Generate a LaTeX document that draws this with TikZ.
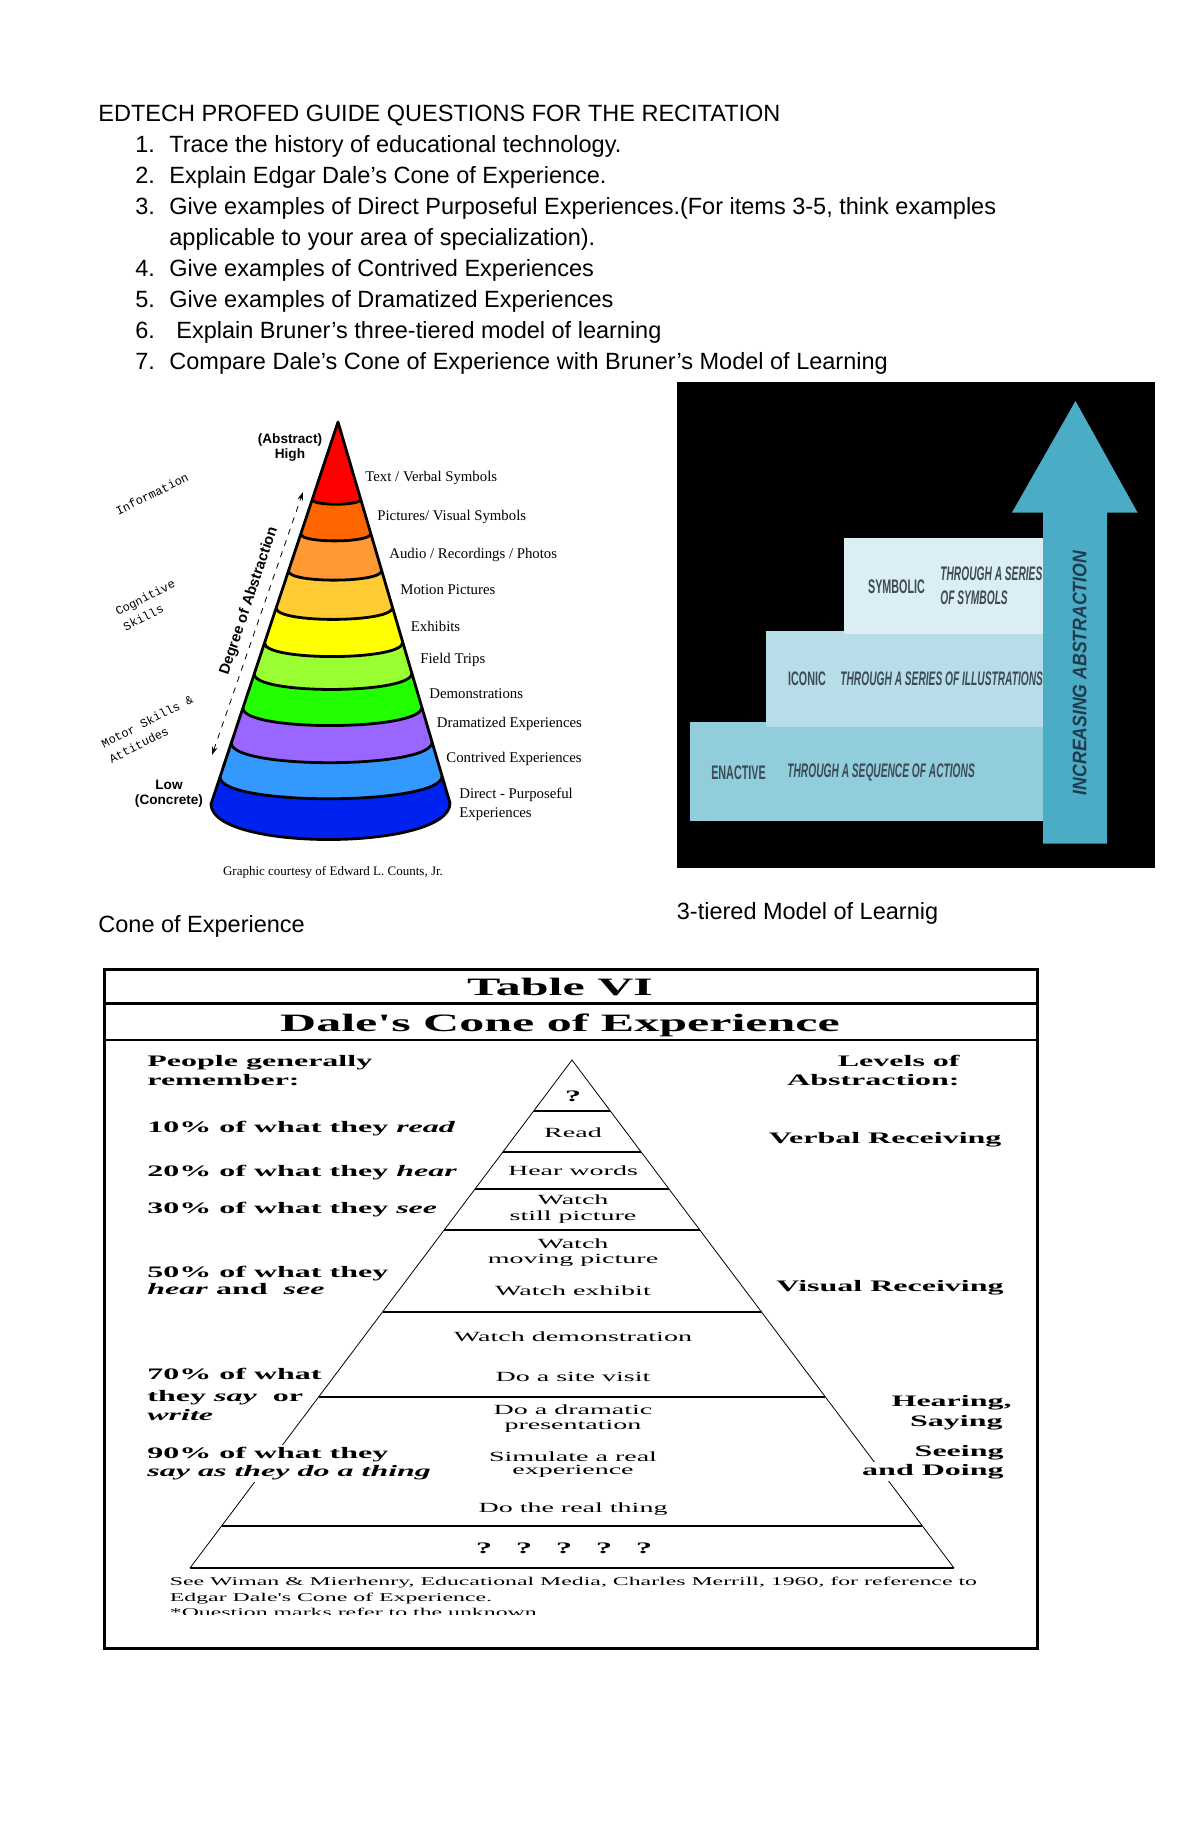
\documentclass[tikz,border=0pt]{standalone}
\usepackage{fontspec}
\setmainfont{Liberation Sans}
\newfontfamily\serifcone{Liberation Serif}
\newfontfamily\monocone{Liberation Mono}
\newfontfamily\tabfont[FakeStretch=2.0]{Liberation Serif}
\newfontfamily\stepfont[FakeStretch=0.55]{Liberation Sans}
\newfontfamily\stepitfont[FakeStretch=0.52]{Liberation Sans}
\newfontfamily\arrowfont[FakeStretch=0.9]{Liberation Sans}
\usepackage{xcolor}
\definecolor{cBandA}{HTML}{FF0000}
\definecolor{cBandB}{HTML}{FF6600}
\definecolor{cBandC}{HTML}{FF9933}
\definecolor{cBandD}{HTML}{FFCC33}
\definecolor{cBandE}{HTML}{FFFF00}
\definecolor{cBandF}{HTML}{99FF33}
\definecolor{cBandG}{HTML}{22FF00}
\definecolor{cBandH}{HTML}{9966FF}
\definecolor{cBandI}{HTML}{3399FF}
\definecolor{cBandJ}{HTML}{0022F0}
\definecolor{cStepA}{HTML}{92CDDC}
\definecolor{cStepB}{HTML}{B7DEE8}
\definecolor{cStepC}{HTML}{DAEEF3}
\definecolor{cArrow}{HTML}{4BACC6}
\definecolor{cStepText}{HTML}{3D4B55}
\definecolor{cArrowText}{HTML}{1F3B4D}
\usepackage{tikz}
\usetikzlibrary{positioning,arrows.meta,calc}
\tikzset{
  q-text/.style={anchor=base west,inner sep=0pt,font=\fontsize{11.75}{14}\selectfont},
  cone-line/.style={line width=1.4pt,line join=round},
  cone-label/.style={anchor=west,inner sep=0pt,align=left,
    font=\serifcone\fontsize{7.4}{9.5}\selectfont},
  cone-side/.style={inner sep=0pt,align=left,font=\monocone\fontsize{6}{8.5}\selectfont},
  cone-end/.style={inner sep=0pt,align=center,font=\bfseries\fontsize{6.8}{7.3}\selectfont},
  arrow-dash/.style={{Stealth[length=1.5mm,width=1mm]}-{Stealth[length=1.5mm,width=1mm]},dashed,thin},
  step-name/.style={inner sep=0pt,text=cStepText,font=\stepfont\bfseries\fontsize{9.8}{12}\selectfont},
  step-how/.style={anchor=west,inner sep=0pt,align=left,text=cStepText,
    font=\stepitfont\bfseries\itshape\fontsize{9.8}{12}\selectfont},
  tab-line/.style={line width=1.3pt},
  tab-rule/.style={line width=0.8pt},
  tab-head/.style={anchor=base,inner sep=0pt,font=\tabfont\bfseries\fontsize{12.5}{15}\selectfont},
  tab-left/.style={anchor=base west,inner sep=1pt,fill=white,font=\tabfont\bfseries\fontsize{8}{9}\selectfont},
  tab-right/.style={anchor=base east,inner sep=1pt,fill=white,font=\tabfont\bfseries\fontsize{8}{9}\selectfont},
  tab-cell/.style={anchor=base,inner sep=0pt,font=\tabfont\fontsize{7}{8}\selectfont},
  tab-note/.style={anchor=base west,inner sep=0pt,font=\tabfont\fontsize{5.95}{7}\selectfont},
}

\begin{document}
\begin{tikzpicture}[x=0.5pt,y=-0.5pt]
  \useasboundingbox (0,0) rectangle (1200,1835);

  % guide questions
  \node[q-text] (title) at (98,121.5) {EDTECH PROFED GUIDE QUESTIONS FOR THE RECITATION};
  \node[q-text] (n1) at (135,152.5) {1.};
  \node[q-text] (q1) at (169,152.5) {Trace the history of educational technology.};
  \node[q-text] (n2) at (135,183.5) {2.};
  \node[q-text] (q2) at (169,183.5) {Explain Edgar Dale's Cone of Experience.};
  \node[q-text] (n3) at (135,214.5) {3.};
  \node[q-text] (q3) at (169,214.5) {Give examples of Direct Purposeful Experiences.(For items 3-5, think examples};
  \node[q-text] (q3b) at (169,245.5) {applicable to your area of specialization).};
  \node[q-text] (n4) at (135,276.5) {4.};
  \node[q-text] (q4) at (169,276.5) {Give examples of Contrived Experiences};
  \node[q-text] (n5) at (135,307.5) {5.};
  \node[q-text] (q5) at (169,307.5) {Give examples of Dramatized Experiences};
  \node[q-text] (n6) at (135,338.5) {6.};
  \node[q-text] (q6) at (176,338.5) {Explain Bruner's three-tiered model of learning};
  \node[q-text] (n7) at (135,369.5) {7.};
  \node[q-text] (q7) at (169,369.5) {Compare Dale's Cone of Experience with Bruner's Model of Learning};

  % cone of experience
  \coordinate (cone-top) at (338,422);
  \coordinate (cone-bl) at (211,804);
  \coordinate (cone-br) at (450,803);
  \fill[cBandJ] (cone-top) -- (cone-bl) .. controls ($(cone-bl)+(0,48)$) and ($(cone-br)+(0,48)$) .. (cone-br) -- cycle;
  \foreach \yb/\col in {777/cBandI,743/cBandH,708/cBandG,674/cBandF,643/cBandE,608/cBandD,571/cBandC,534/cBandB,499.5/cBandA}{
    \pgfmathsetmacro\bandfr{(\yb-422)/382}
    \pgfmathsetmacro\bandsag{31.9*\bandfr}
    \coordinate (bl) at ($(cone-top)!\bandfr!(cone-bl)$);
    \coordinate (br) at ($(cone-top)!\bandfr!(cone-br)$);
    \fill[\col] (cone-top) -- (bl) .. controls ($(bl)+(0,\bandsag)$) and ($(br)+(0,\bandsag)$) .. (br) -- cycle;
    \draw[cone-line] (bl) .. controls ($(bl)+(0,\bandsag)$) and ($(br)+(0,\bandsag)$) .. (br);
  }
  \draw[cone-line] (cone-top) -- (cone-bl) .. controls ($(cone-bl)+(0,48)$) and ($(cone-br)+(0,48)$) .. (cone-br) -- cycle;

  \node[cone-label] (l-text) at (365,478) {Text / Verbal Symbols};
  \node[cone-label] (l-pict) at (377,516.5) {Pictures/ Visual Symbols};
  \node[cone-label] (l-audio) at (389,555) {Audio / Recordings / Photos};
  \node[cone-label] (l-motion) at (400,590) {Motion Pictures};
  \node[cone-label] (l-exhib) at (410.5,626) {Exhibits};
  \node[cone-label] (l-field) at (420,659.5) {Field Trips};
  \node[cone-label] (l-demo) at (429,693.5) {Demonstrations};
  \node[cone-label] (l-drama) at (436.5,724) {Dramatized Experiences};
  \node[cone-label] (l-contr) at (446,758.5) {Contrived Experiences};
  \node[cone-label] (l-direct) at (459,804.5) {Direct - Purposeful\\Experiences};

  \node[cone-end] (high) at (290,447.5) {(Abstract)\\High};
  \node[cone-end] (low) at (169,794) {Low\\(Concrete)};
  \coordinate (deg-top) at (303,492);
  \coordinate (deg-bot) at (212,755);
  \draw[arrow-dash] (deg-bot) -- (deg-top);
  \node[inner sep=0pt,rotate=71.5,font=\bfseries\fontsize{7.4}{9}\selectfont] (degree) at (249,601) {Degree of Abstraction};
  \node[cone-side,rotate=26] (info) at (152,494) {Information};
  \node[cone-side,rotate=27] (cog) at (149,605) {Cognitive\\Skills};
  \node[cone-side,rotate=27] (motor) at (151,729) {Motor Skills \&\\Attitudes};
  \node[inner sep=0pt,font=\serifcone\fontsize{6.5}{8}\selectfont] (credit) at (333,872) {Graphic courtesy of Edward L. Counts, Jr.};
  \node[q-text] (cap-cone) at (98,932) {Cone of Experience};

  % three-tiered model
  \fill[black] (676.5,381.5) rectangle (1154.5,867.5);
  \fill[cStepA] (690,722) rectangle (1045,821);
  \fill[cStepB] (766,630.5) rectangle (1045,726.5);
  \fill[cStepC] (843.5,537.5) rectangle (1045,633.5);
  \fill[cArrow] (1043,843.5) -- (1043,512.5) -- (1012,512.5) -- (1075.5,401) -- (1137.5,512.5)
    -- (1107,512.5) -- (1107,843.5) -- cycle;
  \node[step-name] (symbolic) at (896.5,587) {SYMBOLIC};
  \node[step-how] (symbolic-how) at (940,586) {THROUGH A SERIES\\OF SYMBOLS};
  \node[step-name] (iconic) at (807,679) {ICONIC};
  \node[step-how] (iconic-how) at (840,679) {THROUGH A SERIES OF ILLUSTRATIONS};
  \node[step-name] (enactive) at (738.5,773) {ENACTIVE};
  \node[step-how] (enactive-how) at (787,773) {THROUGH A SEQUENCE OF ACTIONS};
  \node[inner sep=0pt,rotate=90,text=cArrowText,font=\arrowfont\bfseries\itshape\fontsize{9.8}{12}\selectfont]
    (abstraction) at (1079.5,673) {INCREASING ABSTRACTION};
  \node[q-text] (cap-tier) at (676.5,919) {3-tiered Model of Learnig};

  % table vi
  \draw[line width=1.5pt] (104,969) rectangle (1037,1648);
  \draw[tab-line] (104,1003.5) -- (1037,1003.5);
  \draw[tab-line] (104,1040) -- (1037,1040);
  \node[tab-head] (tab-title) at (560,995.5) {Table VI};
  \node[tab-head] (tab-sub) at (560,1031) {Dale's Cone of Experience};

  \coordinate (pyr-top) at (572,1060);
  \coordinate (pyr-bl) at (190,1568);
  \coordinate (pyr-br) at (954,1568);
  \draw[thin] (pyr-bl) -- (pyr-top) -- (pyr-br);
  \draw[tab-rule] (pyr-bl) -- (pyr-br);
  \foreach \yy in {1111,1152,1189,1230,1312,1397,1526}
    \draw[tab-rule] ($(pyr-top)!{(\yy-1060)/508}!(pyr-bl)$) -- ($(pyr-top)!{(\yy-1060)/508}!(pyr-br)$);

  \node[tab-cell,font=\tabfont\bfseries\fontsize{8}{9}\selectfont] (c-unk) at (573,1101.5) {?};
  \node[tab-cell] (c-read) at (573,1137.5) {Read};
  \node[tab-cell] (c-hear) at (573,1175.5) {Hear words};
  \node[tab-cell] (c-still) at (573,1204) {Watch};
  \node[tab-cell] (c-still2) at (573,1220.5) {still picture};
  \node[tab-cell] (c-move) at (573,1248.5) {Watch};
  \node[tab-cell] (c-move2) at (573,1263) {moving picture};
  \node[tab-cell] (c-exhib) at (573,1295) {Watch exhibit};
  \node[tab-cell] (c-demo) at (573,1341.5) {Watch demonstration};
  \node[tab-cell] (c-site) at (573,1381.5) {Do a site visit};
  \node[tab-cell] (c-drama) at (573,1414.5) {Do a dramatic};
  \node[tab-cell] (c-drama2) at (573,1429) {presentation};
  \node[tab-cell] (c-sim) at (573,1461) {Simulate a real};
  \node[tab-cell] (c-sim2) at (573,1474.5) {experience};
  \node[tab-cell] (c-real) at (573,1512.5) {Do the real thing};
  \node[tab-cell,font=\tabfont\bfseries\fontsize{8}{9}\selectfont] (c-unks) at (564,1553) {?\ \ \ ?\ \ \ ?\ \ \ ?\ \ \ ?};

  \node[tab-left] (p-head) at (145,1066.5) {People generally};
  \node[tab-left] (p-head2) at (145,1085) {remember:};
  \node[tab-left] (p-10) at (145,1132.5) {10\% of what they \textit{read}};
  \node[tab-left] (p-20) at (145,1176.5) {20\% of what they \textit{hear}};
  \node[tab-left] (p-30) at (145,1213) {30\% of what they \textit{see}};
  \node[tab-left] (p-50) at (145,1277.5) {50\% of what they};
  \node[tab-left] (p-50b) at (145,1294.5) {\textit{hear} and \ \textit{see}};
  \node[tab-left] (p-70) at (145,1379.5) {70\% of what};
  \node[tab-left] (p-70b) at (145,1401.5) {they \textit{say} \ or};
  \node[tab-left] (p-70c) at (145,1420) {\textit{write}};
  \node[tab-left] (p-90) at (145,1458) {90\% of what they};
  \node[tab-left] (p-90b) at (145,1476.5) {\textit{say as they do a thing}};

  \node[tab-right] (a-head) at (962,1066.5) {Levels of};
  \node[tab-right] (a-head2) at (962,1085) {Abstraction:};
  \node[tab-right,anchor=base west] (a-verbal) at (766.5,1143) {Verbal Receiving};
  \node[tab-right,anchor=base west] (a-visual) at (774,1291.5) {Visual Receiving};
  \node[tab-right] (a-hear) at (1014,1406.5) {Hearing,};
  \node[tab-right] (a-hear2) at (1005,1426.5) {Saying};
  \node[tab-right] (a-see) at (1006,1456.5) {Seeing};
  \node[tab-right] (a-see2) at (1006,1475.5) {and Doing};

  \node[tab-note] (note1) at (169.5,1585.5) {See Wiman \& Mierhenry, Educational Media, Charles Merrill, 1960, for reference to};
  \node[tab-note] (note2) at (169.5,1601.5) {Edgar Dale's Cone of Experience.};
  \begin{scope}
    \clip (160,1600) rectangle (1000,1614.5);
    \node[tab-note] (note3) at (169.5,1616.5) {*Question marks refer to the unknown};
  \end{scope}
\end{tikzpicture}
\end{document}
